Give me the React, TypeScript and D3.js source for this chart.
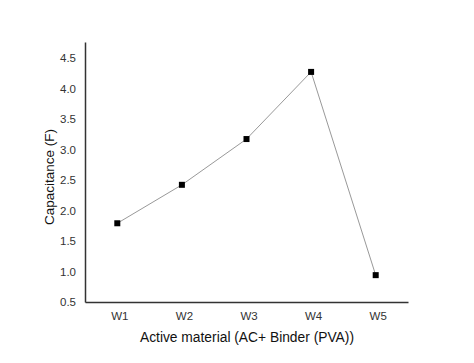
import { useEffect, useRef } from "react"
import * as d3 from "d3"

const categories = ["W1", "W2", "W3", "W4", "W5"]
const capacitance = [1.79, 2.42, 3.17, 4.27, 0.94]
const yTicks = [0.5, 1.0, 1.5, 2.0, 2.5, 3.0, 3.5, 4.0, 4.5]

const width = 474
const height = 363

export default function App() {
  const svgRef = useRef<SVGSVGElement>(null)

  useEffect(() => {
    if (!svgRef.current) return
    const svg = d3.select(svgRef.current)
    svg.selectAll("*").remove()

    const left = 85
    const right = 408
    const top = 42
    const bottom = 302
    const font = "Liberation Sans, Arial, sans-serif"

    const x = d3.scalePoint<string>().domain(categories).range([left, right]).padding(0.5)
    const y = d3.scaleLinear().domain([0.5, 4.76]).range([bottom, top])

    // axes, no tick marks
    const yAxis = svg
      .append("g")
      .attr("transform", `translate(${left},0)`)
      .call(d3.axisLeft(y).tickValues(yTicks).tickSize(0).tickPadding(9).tickFormat(d3.format(".1f")))
    yAxis.select(".domain").attr("stroke", "#333").attr("stroke-width", 1.5)
    yAxis.selectAll("text").attr("fill", "#333").attr("font-size", 11.5).attr("font-family", font)

    const xAxis = svg
      .append("g")
      .attr("transform", `translate(0,${bottom})`)
      .call(d3.axisBottom(x).tickSize(0).tickPadding(10))
    xAxis.select(".domain").attr("stroke", "#333").attr("stroke-width", 1.5)
    xAxis
      .selectAll("text")
      .attr("fill", "#333")
      .attr("font-size", 11.5)
      .attr("font-family", font)
      .attr("dx", 2)

    const pts = categories.map((c, i) => ({ c, v: capacitance[i] }))

    const line = d3
      .line<{ c: string; v: number }>()
      .x((d) => x(d.c) || 0)
      .y((d) => y(d.v))

    svg
      .append("path")
      .datum(pts)
      .attr("fill", "none")
      .attr("stroke", "#999")
      .attr("stroke-width", 1)
      .attr("d", line)

    svg
      .selectAll(".pt")
      .data(pts)
      .enter()
      .append("rect")
      .attr("class", "pt")
      .attr("x", (d) => (x(d.c) || 0) - 3)
      .attr("y", (d) => y(d.v) - 3)
      .attr("width", 6)
      .attr("height", 6)
      .attr("fill", "#000")

    svg
      .append("text")
      .attr("x", 247)
      .attr("y", 342)
      .attr("text-anchor", "middle")
      .attr("font-size", 13.8)
      .attr("font-family", font)
      .attr("fill", "#111")
      .text("Active material (AC+ Binder (PVA))")

    svg
      .append("text")
      .attr("transform", `translate(54,177) rotate(-90)`)
      .attr("text-anchor", "middle")
      .attr("font-size", 13.5)
      .attr("font-family", font)
      .attr("fill", "#111")
      .text("Capacitance (F)")
  }, [])

  return (
    <svg
      ref={svgRef}
      width={width}
      height={height}
      style={{ position: "absolute", left: 0, top: 0, background: "#fff" }}
    />
  )
}
